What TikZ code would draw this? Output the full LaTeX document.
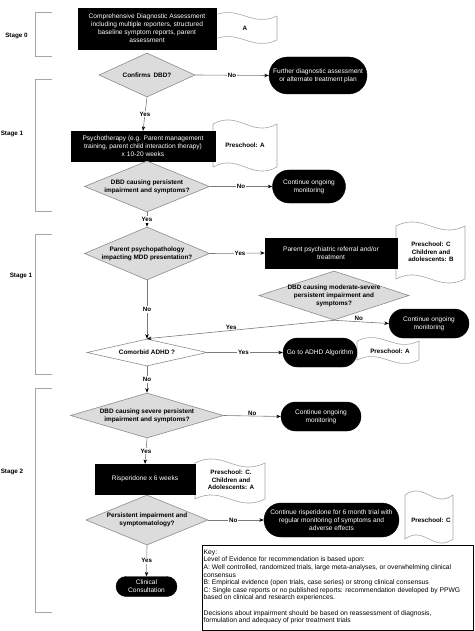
\documentclass[tikz,border=0pt]{standalone}
\usepackage{fontspec}
\setmainfont{Liberation Sans}
\usetikzlibrary{shapes.geometric,shapes.misc,arrows.meta}
\definecolor{diafill}{HTML}{DCDCDC}
\definecolor{diaedge}{HTML}{8C8C8C}
\definecolor{lineg}{HTML}{7A7A7A}
\newcommand{\wavedoc}[5]{%
  \draw[docst] (#1,#2) .. controls ({#1+0.4*(#3-#1)},{#2-2*#5}) and ({#1+0.6*(#3-#1)},{#2+2*#5}) .. (#3,#2)
    -- (#3,#4) .. controls ({#1+0.6*(#3-#1)},{#4+2*#5}) and ({#1+0.4*(#3-#1)},{#4-2*#5}) .. (#1,#4) -- cycle;}
\begin{document}
\begin{tikzpicture}[x=1pt,y=-1pt,
  dia/.style={diamond, draw=diaedge, fill=diafill, line width=0.6pt, inner sep=0pt},
  dtxt/.style={font=\bfseries\fontsize{6.4}{8}\selectfont, align=center, inner sep=0pt},
  blk/.style={rectangle, fill=black, draw=black, text=white, font=\fontsize{6.6}{8}\selectfont, align=center, inner sep=1pt},
  term/.style={rounded rectangle, fill=black, draw=black, text=white, font=\fontsize{6.6}{8}\selectfont, align=center, inner sep=1pt},
  conn/.style={draw=lineg, line width=0.6pt, -{Stealth[black,length=4.5pt,width=3.5pt]}},
  lbl/.style={font=\bfseries\fontsize{6.2}{7}\selectfont, fill=white, inner sep=1pt},
  lbla/.style={font=\bfseries\fontsize{6.2}{7}\selectfont, inner sep=1pt},
  brk/.style={draw=gray!70, line width=0.7pt},
  stg/.style={font=\bfseries\fontsize{6.3}{7}\selectfont},
  docst/.style={draw=gray!70, fill=white, line width=0.6pt},
  doctxt/.style={font=\bfseries\fontsize{6.3}{7.6}\selectfont, align=center, inner sep=0pt},
  keytxt/.style={font=\fontsize{6.75}{7.6}\selectfont, align=left, inner sep=0pt}
]
\useasboundingbox (0,0) rectangle (474,631);
\fill[white] (0,0) rectangle (474,631);

% stage brackets
\draw[brk] (52,12) -- (35,12) -- (35,56) -- (52,56);
\draw[brk] (52,79) -- (35,79) -- (35,211) -- (52,211);
\draw[brk] (52,234) -- (35,234) -- (35,374) -- (52,374);
\draw[brk] (52,388) -- (35,388) -- (35,612) -- (52,612);
\node[stg] (s0) at (16.5,36) {Stage 0};
\node[stg] (s1a) at (12,134) {Stage 1};
\node[stg] (s1b) at (21,276) {Stage 1};
\node[stg] (s2) at (12,472) {Stage 2};

% wavy documents (behind boxes)
\wavedoc{213}{16}{277}{40}{6}
\node[doctxt] (doc0) at (245,28) {A};
\wavedoc{213}{124}{277}{167}{7}
\node[doctxt] (doc1) at (245,145) {Preschool: A};
\wavedoc{396}{226}{465}{279}{7}
\node[doctxt] (doc2) at (431,252) {Preschool: C\\Children and\\adolescents: B};
\wavedoc{357}{341}{419}{360}{6}
\node[doctxt] (doc3) at (390,351) {Preschool: A};
\wavedoc{195}{463}{265}{499}{7}
\node[doctxt] (doc4) at (231,480) {Preschool: C.\\Children and\\Adolescents: A};
\wavedoc{405}{495}{453}{539}{7}
\node[doctxt] (doc5) at (431,520) {Preschool: C};

% boxes
\node[blk, minimum width=138pt, minimum height=41pt] (b1) at (147,28.5)
  {Comprehensive Diagnostic Assessment\\including multiple reporters, structured\\baseline symptom reports, parent\\assessment};
\node[dia, minimum width=96pt, minimum height=44pt] (d1) at (147,75) {};
\node[dtxt] (d1t) at (d1) {Confirms\, DBD?};
\node[term, minimum width=100pt, minimum height=37pt] (t1) at (318,75.5)
  {Further diagnostic assessment\\or alternate treatment plan};

\node[blk, minimum width=144pt, minimum height=30pt] (b2) at (143,146)
  {Psychotherapy (e.g. Parent management\\training, parent child interaction therapy)\\x 10-20 weeks};
\node[dia, minimum width=125pt, minimum height=51pt] (d2) at (147,186.5) {};
\node[dtxt] (d2t) at (d2) {DBD causing persistent\\impairment and symptoms?};
\node[term, minimum width=75pt, minimum height=33pt] (t2) at (309,186.5) {Continue ongoing\\monitoring};

\node[dia, minimum width=125pt, minimum height=53pt] (d3) at (147,253.5) {};
\node[dtxt] (d3t) at (d3) {Parent psychopathology\\impacting MDD presentation?};
\node[blk, minimum width=132pt, minimum height=30pt] (b3) at (331,253) {Parent psychiatric referral and/or\\treatment};

\node[dia, minimum width=150pt, minimum height=49pt] (d4) at (334,295.5) {};
\node[dtxt] (d4t) at (d4) {DBD causing moderate-severe\\persistent impairment and\\symptoms?};
\node[term, minimum width=82pt, minimum height=29pt] (t3) at (429,323.5) {Continue ongoing\\monitoring};

\node[dia, fill=white, minimum width=120pt, minimum height=27pt] (d5) at (147,352.5) {};
\node[dtxt] (d5t) at (d5) {Comorbid ADHD ?};
\node[term, minimum width=76pt, minimum height=29pt] (t4) at (320,352.5) {Go to ADHD Algorithm};

\node[dia, minimum width=153pt, minimum height=45pt] (d6) at (147,415.5) {};
\node[dtxt] (d6t) at (d6) {DBD causing severe persistent\\impairment and symptoms?};
\node[term, minimum width=82pt, minimum height=29pt] (t5) at (321,416.5) {Continue ongoing\\monitoring};

\node[blk, minimum width=100pt, minimum height=30pt] (b4) at (145,479) {Risperidone x 6 weeks};
\node[dia, minimum width=122pt, minimum height=50pt] (d7) at (147,520) {};
\node[dtxt] (d7t) at (d7) {Persistent impairment and\\symptomatology?};
\node[term, minimum width=137pt, minimum height=34pt] (t6) at (331.5,520)
  {Continue risperidone for 6 month trial with\\regular monitoring of symptoms and\\adverse effects};
\node[term, minimum width=63pt, minimum height=20pt] (t7) at (146.5,586.5) {Clinical\\Consultation};

% connectors
\draw[conn] (d1.east) -- node[lbl] {No} (t1.west);
\draw[conn] (d1.south) -- node[lbl] {Yes} (b2.north);
\draw[conn] (d2.east) -- node[lbl] {No} (t2.west);
\draw[conn] (d2.south) -- node[lbl] {Yes} (d3.north);
\draw[conn] (d3.east) -- node[lbl, pos=0.55] {Yes} (b3.west);
\draw[conn] (d3.south) -- node[lbl] {No} (d5.north);
\draw[conn] (d4.south) -- node[lbla, above, pos=0.45] {No} (t3.west);
\draw[conn] (d4.south) -- node[lbla, above, pos=0.55] {Yes} (d5.north);
\draw[conn] (d5.east) -- node[lbl, pos=0.48] {Yes} (t4.west);
\draw[conn] (d5.south) -- node[lbl] {No} (d6.north);
\draw[conn] (d6.east) -- node[lbla, above, inner sep=0.5pt] {No} (t5.west);
\draw[conn] (d6.south) -- node[lbl] {Yes} (b4.north);
\draw[conn] (d7.east) -- node[lbl, pos=0.45] {No} (t6.west);
\draw[conn] (d7.south) -- node[lbl] {Yes} (t7.north);

% key
\node[draw=black, line width=1.3pt, minimum width=271pt, minimum height=84.5pt, anchor=north west, inner sep=0pt] (key) at (202,545) {};
\node[keytxt, anchor=north west] (keyt) at (203.5,549.5)
  {Key:\\
   Level of Evidence for recommendation is based upon:\\
   A: Well controlled, randomized trials, large meta-analyses, or overwhelming clinical\\
   consensus\\
   B: Empirical evidence (open trials, case series) or strong clinical consensus\\
   C: Single case reports or no published reports: recommendation developed by PPWG\\
   based on clinical and research experiences.\\[7.6pt]
   Decisions about impairment should be based on reassessment of diagnosis,\\
   formulation and adequacy of prior treatment trials};
\end{tikzpicture}
\end{document}
